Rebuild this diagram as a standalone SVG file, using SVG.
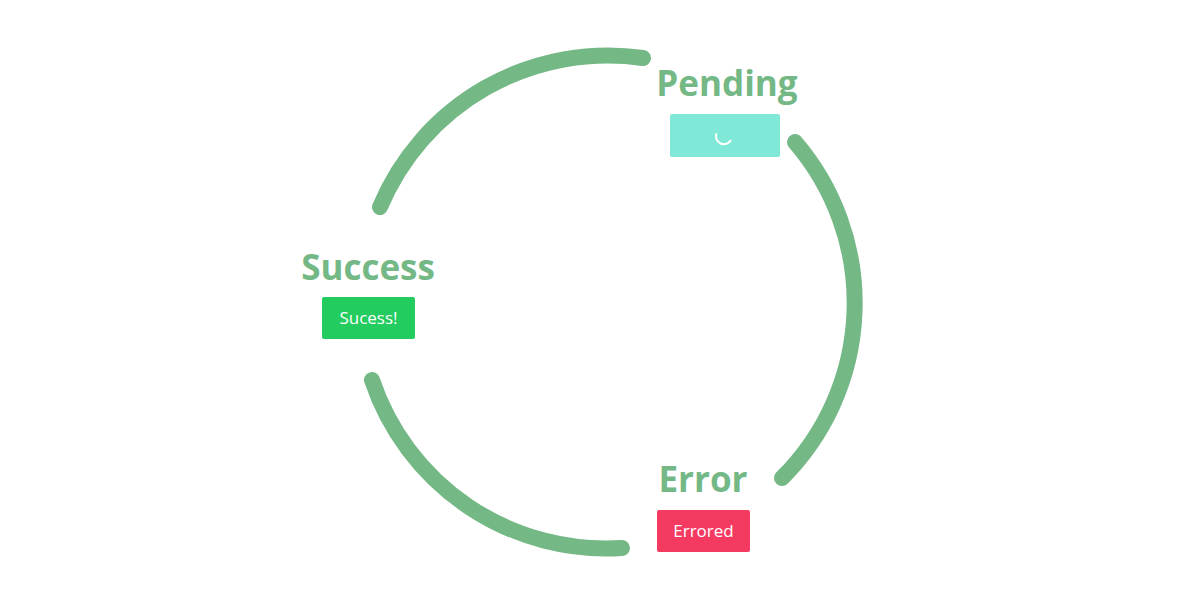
<svg xmlns="http://www.w3.org/2000/svg" width="1200" height="600" viewBox="0 0 1200 600">
<style>
.arc{fill:none;stroke:#74b886;stroke-width:16;stroke-linecap:round}
.t{font-family:"Open Sans","Noto Sans",sans-serif;font-weight:bold;font-size:35px;fill:#74b886;text-anchor:middle}
.b{font-family:"Open Sans","Noto Sans",sans-serif;font-size:17px;fill:#fff;text-anchor:middle}
</style>
<rect width="1200" height="600" fill="#fff"/>
<g id="connectors">
<path class="arc" d="M380 207 A247 247 0 0 1 643 58"/>
<path class="arc" d="M795 142 A247 247 0 0 1 782 478"/>
<path class="arc" d="M622 548 A247 247 0 0 1 372 380"/>
</g>
<g id="pending">
<text class="t" x="727" y="96">Pending</text>
<rect x="670" y="114" width="110" height="43" rx="2" fill="#80e8d6"/>
<path d="M716.5 133.3 A8 8 0 0 0 731 140" fill="none" stroke="#fff" stroke-width="2"/>
</g>
<g id="success">
<text class="t" x="368" y="280">Success</text>
<rect x="322" y="297" width="93" height="42" rx="2" fill="#22cc5e"/>
<text class="b" x="368.5" y="324">Sucess!</text>
</g>
<g id="error">
<text class="t" x="703" y="492">Error</text>
<rect x="657" y="510" width="93" height="42" rx="2" fill="#f53a62"/>
<text class="b" x="703.5" y="537">Errored</text>
</g>
</svg>
